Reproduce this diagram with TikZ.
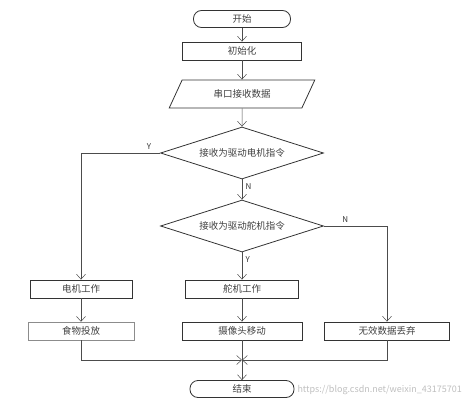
\documentclass[tikz,border=0pt]{standalone}
\usepackage{fontspec}
\setmainfont{Noto Sans CJK SC}
\usetikzlibrary{shapes.geometric,arrows.meta}

\begin{document}
\begin{tikzpicture}[x=1pt, y=-1pt,
        every node/.style={align=center, font=\fontsize{9.5}{12}\selectfont, text=black!75},
        term/.style={draw=black!80, line width=0.8pt, rounded corners=8pt, minimum height=17pt, inner sep=0pt},
        proc/.style={draw=black!80, line width=0.8pt, minimum height=18pt, inner sep=0pt},
        io/.style={trapezium, trapezium left angle=55, trapezium right angle=125, trapezium stretches=true,
            draw=black!80, line width=0.8pt, minimum width=146pt, minimum height=28pt, inner sep=0pt},
        dec/.style={diamond, aspect=3.1, draw=black!80, line width=0.8pt, minimum width=163pt, minimum height=52pt, inner sep=0pt},
        lbl/.style={font=\fontsize{8}{9}\selectfont, text=black!80},
        line/.style={draw=black!70, line width=0.5pt},
        arr/.style={line, -{Straight Barb[length=5pt, width=9pt]}}]
        \useasboundingbox (0,0) rectangle (474,404);

        % Nodes
        \node[term, minimum width=97pt] (start) at (242,19) {开始};
        \node[proc, minimum width=119pt] (init) at (242,51) {初始化};
        \node[io] (recv) at (242,94) {串口接收数据};
        \node[dec] (dmotor) at (242,153) {接收为驱动电机指令};
        \node[dec] (dservo) at (242,226) {接收为驱动舵机指令};
        \node[proc, minimum width=102pt] (motor) at (81,289) {电机工作};
        \node[proc, minimum width=113pt] (servo) at (242,289) {舵机工作};
        \node[proc, minimum width=106pt, draw=black!45, line width=0.5pt] (food) at (81,331) {食物投放};
        \node[proc, minimum width=120pt] (cam) at (242,331) {摄像头移动};
        \node[proc, minimum width=125pt] (drop) at (387,331) {无效数据丢弃};
        \coordinate (merge) at (242,360);
        \node[term, minimum width=104pt] (end) at (242,389) {结束};

        % Connectors
        \draw[arr] (start) -- (init);
        \draw[arr] (init) -- (recv);
        \draw[arr] (recv) -- (dmotor);
        \draw[arr] (dmotor.west) -| node[lbl, above, pos=0.07] {Y} (motor);
        \draw[arr] (dmotor) -- node[lbl, right, pos=0.35] {N} (dservo);
        \draw[arr] (dservo.east) -| node[lbl, above, pos=0.17] {N} (drop);
        \draw[arr] (dservo) -- node[lbl, right, pos=0.25] {Y} (servo);
        \draw[arr] (motor) -- (food);
        \draw[arr] (servo) -- (cam);
        \draw[line] (cam) -- (merge);
        \draw[arr] (food) |- (merge);
        \draw[arr] (drop) |- (merge);
        \draw[arr] (merge) -- (end);

        % Watermark
        \node[font=\fontsize{9}{10}\selectfont, text=black!25, anchor=west] (mark) at (294,390) {https://blog.csdn.net/weixin\_43175701};
    \end{tikzpicture}
\end{document}
